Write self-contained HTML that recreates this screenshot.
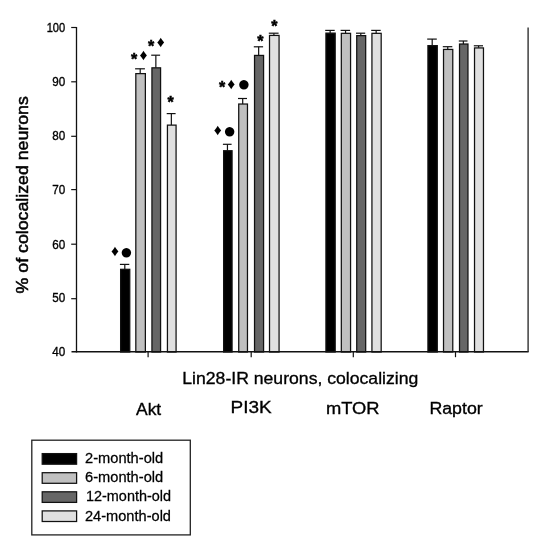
<!DOCTYPE html>
<html lang="en"><head><meta charset="utf-8"><title>Lin28-IR neurons colocalization</title>
<style>html,body{margin:0;padding:0;background:#fff;}body{width:550px;height:550px;overflow:hidden;}svg{display:block;}text{font-family:"Liberation Sans",Arial,sans-serif;fill:#000;stroke:#000;stroke-width:0.27px;}text.sym{stroke-width:0;}text.st{stroke-width:0.5px;}text.big{stroke-width:0.32px;}text.yl{stroke-width:0.5px;}text.tk{stroke-width:0.36px;}</style></head><body>
<svg width="550" height="550" viewBox="0 0 550 550">
<rect x="0" y="0" width="550" height="550" fill="#ffffff"/>
<line x1="124.80" y1="264.40" x2="124.80" y2="269.20" stroke="#111" stroke-width="1.2"/>
<line x1="119.90" y1="264.40" x2="129.30" y2="264.40" stroke="#111" stroke-width="1.2"/>
<rect x="120.62" y="269.32" width="9.15" height="82.68" fill="#000000" stroke="#111" stroke-width="1.25"/>
<line x1="140.20" y1="68.80" x2="140.20" y2="73.50" stroke="#111" stroke-width="1.2"/>
<line x1="135.10" y1="68.80" x2="144.90" y2="68.80" stroke="#111" stroke-width="1.2"/>
<rect x="135.82" y="73.62" width="9.55" height="278.38" fill="#c0c0c0" stroke="#111" stroke-width="1.25"/>
<line x1="155.85" y1="55.20" x2="155.85" y2="67.70" stroke="#111" stroke-width="1.2"/>
<line x1="151.20" y1="55.20" x2="160.10" y2="55.20" stroke="#111" stroke-width="1.2"/>
<rect x="151.93" y="67.83" width="8.65" height="284.18" fill="#666666" stroke="#111" stroke-width="1.25"/>
<line x1="171.35" y1="113.60" x2="171.35" y2="125.00" stroke="#111" stroke-width="1.2"/>
<line x1="166.70" y1="113.60" x2="175.60" y2="113.60" stroke="#111" stroke-width="1.2"/>
<rect x="167.43" y="125.12" width="8.65" height="226.88" fill="#e0e0e0" stroke="#111" stroke-width="1.25"/>
<line x1="227.45" y1="144.30" x2="227.45" y2="150.60" stroke="#111" stroke-width="1.2"/>
<line x1="222.90" y1="144.30" x2="231.60" y2="144.30" stroke="#111" stroke-width="1.2"/>
<rect x="223.62" y="150.72" width="8.45" height="201.28" fill="#000000" stroke="#111" stroke-width="1.25"/>
<line x1="242.70" y1="98.50" x2="242.70" y2="103.90" stroke="#111" stroke-width="1.2"/>
<line x1="238.00" y1="98.50" x2="247.00" y2="98.50" stroke="#111" stroke-width="1.2"/>
<rect x="238.72" y="104.03" width="8.75" height="247.97" fill="#c0c0c0" stroke="#111" stroke-width="1.25"/>
<line x1="258.65" y1="46.80" x2="258.65" y2="55.30" stroke="#111" stroke-width="1.2"/>
<line x1="253.80" y1="46.80" x2="263.10" y2="46.80" stroke="#111" stroke-width="1.2"/>
<rect x="254.53" y="55.42" width="9.05" height="296.57" fill="#666666" stroke="#111" stroke-width="1.25"/>
<line x1="273.90" y1="33.20" x2="273.90" y2="35.30" stroke="#111" stroke-width="1.2"/>
<line x1="268.80" y1="33.20" x2="278.60" y2="33.20" stroke="#111" stroke-width="1.2"/>
<rect x="269.52" y="35.42" width="9.55" height="316.57" fill="#e0e0e0" stroke="#111" stroke-width="1.25"/>
<line x1="330.15" y1="30.40" x2="330.15" y2="33.00" stroke="#111" stroke-width="1.2"/>
<line x1="325.20" y1="30.40" x2="334.70" y2="30.40" stroke="#111" stroke-width="1.2"/>
<rect x="325.93" y="33.12" width="9.25" height="318.88" fill="#000000" stroke="#111" stroke-width="1.25"/>
<line x1="345.55" y1="30.40" x2="345.55" y2="33.20" stroke="#111" stroke-width="1.2"/>
<line x1="340.60" y1="30.40" x2="350.10" y2="30.40" stroke="#111" stroke-width="1.2"/>
<rect x="341.32" y="33.33" width="9.25" height="318.68" fill="#c0c0c0" stroke="#111" stroke-width="1.25"/>
<line x1="360.80" y1="33.20" x2="360.80" y2="35.50" stroke="#111" stroke-width="1.2"/>
<line x1="356.00" y1="33.20" x2="365.20" y2="33.20" stroke="#111" stroke-width="1.2"/>
<rect x="356.73" y="35.62" width="8.95" height="316.38" fill="#666666" stroke="#111" stroke-width="1.25"/>
<line x1="376.15" y1="30.40" x2="376.15" y2="33.20" stroke="#111" stroke-width="1.2"/>
<line x1="371.20" y1="30.40" x2="380.70" y2="30.40" stroke="#111" stroke-width="1.2"/>
<rect x="371.93" y="33.33" width="9.25" height="318.68" fill="#e0e0e0" stroke="#111" stroke-width="1.25"/>
<line x1="432.20" y1="39.10" x2="432.20" y2="45.50" stroke="#111" stroke-width="1.2"/>
<line x1="427.20" y1="39.10" x2="436.80" y2="39.10" stroke="#111" stroke-width="1.2"/>
<rect x="427.93" y="45.62" width="9.35" height="306.38" fill="#000000" stroke="#111" stroke-width="1.25"/>
<line x1="447.75" y1="46.70" x2="447.75" y2="49.30" stroke="#111" stroke-width="1.2"/>
<line x1="442.80" y1="46.70" x2="452.30" y2="46.70" stroke="#111" stroke-width="1.2"/>
<rect x="443.52" y="49.42" width="9.25" height="302.57" fill="#c0c0c0" stroke="#111" stroke-width="1.25"/>
<line x1="463.35" y1="41.00" x2="463.35" y2="43.90" stroke="#111" stroke-width="1.2"/>
<line x1="458.80" y1="41.00" x2="467.50" y2="41.00" stroke="#111" stroke-width="1.2"/>
<rect x="459.52" y="44.02" width="8.45" height="307.98" fill="#666666" stroke="#111" stroke-width="1.25"/>
<line x1="478.60" y1="45.80" x2="478.60" y2="47.80" stroke="#111" stroke-width="1.2"/>
<line x1="473.80" y1="45.80" x2="483.00" y2="45.80" stroke="#111" stroke-width="1.2"/>
<rect x="474.52" y="47.92" width="8.95" height="304.07" fill="#e0e0e0" stroke="#111" stroke-width="1.25"/>
<line x1="76.5" y1="27.0" x2="76.5" y2="352.5" stroke="#111" stroke-width="1.3"/>
<line x1="71.5" y1="351.7" x2="528.6" y2="351.7" stroke="#111" stroke-width="1.4"/>
<line x1="528.1" y1="27.5" x2="528.1" y2="352.0" stroke="#2a2a2a" stroke-width="1.35"/>
<line x1="71.2" y1="27.50" x2="76.5" y2="27.50" stroke="#111" stroke-width="1.2"/>
<text class="tk" x="46.70" y="31.90" font-size="13.5" textLength="18.50" lengthAdjust="spacingAndGlyphs">100</text>
<line x1="71.2" y1="81.80" x2="76.5" y2="81.80" stroke="#111" stroke-width="1.2"/>
<text class="tk" x="52.20" y="86.40" font-size="13.5" textLength="13.00" lengthAdjust="spacingAndGlyphs">90</text>
<line x1="71.2" y1="136.30" x2="76.5" y2="136.30" stroke="#111" stroke-width="1.2"/>
<text class="tk" x="52.20" y="139.90" font-size="13.5" textLength="13.00" lengthAdjust="spacingAndGlyphs">80</text>
<line x1="71.2" y1="189.60" x2="76.5" y2="189.60" stroke="#111" stroke-width="1.2"/>
<text class="tk" x="52.20" y="194.15" font-size="13.5" textLength="13.00" lengthAdjust="spacingAndGlyphs">70</text>
<line x1="71.2" y1="244.20" x2="76.5" y2="244.20" stroke="#111" stroke-width="1.2"/>
<text class="tk" x="52.20" y="248.60" font-size="13.5" textLength="13.00" lengthAdjust="spacingAndGlyphs">60</text>
<line x1="71.2" y1="298.70" x2="76.5" y2="298.70" stroke="#111" stroke-width="1.2"/>
<text class="tk" x="52.20" y="301.90" font-size="13.5" textLength="13.00" lengthAdjust="spacingAndGlyphs">50</text>
<text class="tk" x="52.20" y="356.40" font-size="13.5" textLength="13.00" lengthAdjust="spacingAndGlyphs">40</text>
<line x1="148.10" y1="352.0" x2="148.10" y2="357.2" stroke="#111" stroke-width="1.2"/>
<line x1="251.20" y1="352.0" x2="251.20" y2="357.2" stroke="#111" stroke-width="1.2"/>
<line x1="353.30" y1="352.0" x2="353.30" y2="357.2" stroke="#111" stroke-width="1.2"/>
<line x1="455.50" y1="352.0" x2="455.50" y2="357.2" stroke="#111" stroke-width="1.2"/>
<text class="yl" transform="translate(28.4,293.4) rotate(-90)" font-size="16.8" textLength="197.2" lengthAdjust="spacingAndGlyphs">% of colocalized neurons</text>
<text class="big" x="182.3" y="383.8" font-size="16.2" textLength="236" lengthAdjust="spacingAndGlyphs">Lin28-IR neurons, colocalizing</text>
<text class="big" x="136" y="414.5" font-size="15.8" textLength="25.2" lengthAdjust="spacingAndGlyphs">Akt</text>
<text class="big" x="230.5" y="413.0" font-size="15.8" textLength="41.1" lengthAdjust="spacingAndGlyphs">PI3K</text>
<text class="big" x="326.0" y="414.3" font-size="15.8" textLength="53.6" lengthAdjust="spacingAndGlyphs">mTOR</text>
<text class="big" x="429.4" y="414.3" font-size="15.8" textLength="53.3" lengthAdjust="spacingAndGlyphs">Raptor</text>
<text class="sym" x="114.9" y="256.1" font-size="15.5" text-anchor="middle">♦</text>
<text class="sym" x="126.5" y="259.2" font-size="22" text-anchor="middle">●</text>
<text class="st" x="134.2" y="64.6" font-size="16" font-weight="bold" text-anchor="middle">*</text>
<text class="sym" x="143.4" y="60.4" font-size="15.5" text-anchor="middle">♦</text>
<text class="st" x="151.2" y="51.6" font-size="16" font-weight="bold" text-anchor="middle">*</text>
<text class="sym" x="160.7" y="47.0" font-size="15.5" text-anchor="middle">♦</text>
<text class="st" x="170.5" y="107.7" font-size="16" font-weight="bold" text-anchor="middle">*</text>
<text class="sym" x="217.8" y="135.0" font-size="15.5" text-anchor="middle">♦</text>
<text class="sym" x="229.6" y="137.8" font-size="22" text-anchor="middle">●</text>
<text class="st" x="222.1" y="93.2" font-size="16" font-weight="bold" text-anchor="middle">*</text>
<text class="sym" x="231.3" y="88.8" font-size="15.5" text-anchor="middle">♦</text>
<text class="sym" x="243.8" y="91.0" font-size="22" text-anchor="middle">●</text>
<text class="st" x="260.3" y="46.5" font-size="16" font-weight="bold" text-anchor="middle">*</text>
<text class="st" x="274.3" y="32.1" font-size="16" font-weight="bold" text-anchor="middle">*</text>
<rect x="31.8" y="440.2" width="158.5" height="94.7" fill="#fff" stroke="#222" stroke-width="1.3"/>
<rect x="42.2" y="453.60" width="34.4" height="10.6" fill="#000000" stroke="#111" stroke-width="1.25"/>
<text x="85.0" y="463.00" font-size="15.3" textLength="78.2" lengthAdjust="spacingAndGlyphs">2-month-old</text>
<rect x="42.2" y="472.70" width="34.4" height="10.6" fill="#c0c0c0" stroke="#111" stroke-width="1.25"/>
<text x="85.0" y="482.00" font-size="15.3" textLength="78.2" lengthAdjust="spacingAndGlyphs">6-month-old</text>
<rect x="42.2" y="491.80" width="34.4" height="10.6" fill="#666666" stroke="#111" stroke-width="1.25"/>
<text x="86.0" y="501.30" font-size="15.3" textLength="85.0" lengthAdjust="spacingAndGlyphs">12-month-old</text>
<rect x="42.2" y="510.90" width="34.4" height="10.6" fill="#e0e0e0" stroke="#111" stroke-width="1.25"/>
<text x="85.0" y="520.50" font-size="15.3" textLength="86.0" lengthAdjust="spacingAndGlyphs">24-month-old</text>
</svg></body></html>
